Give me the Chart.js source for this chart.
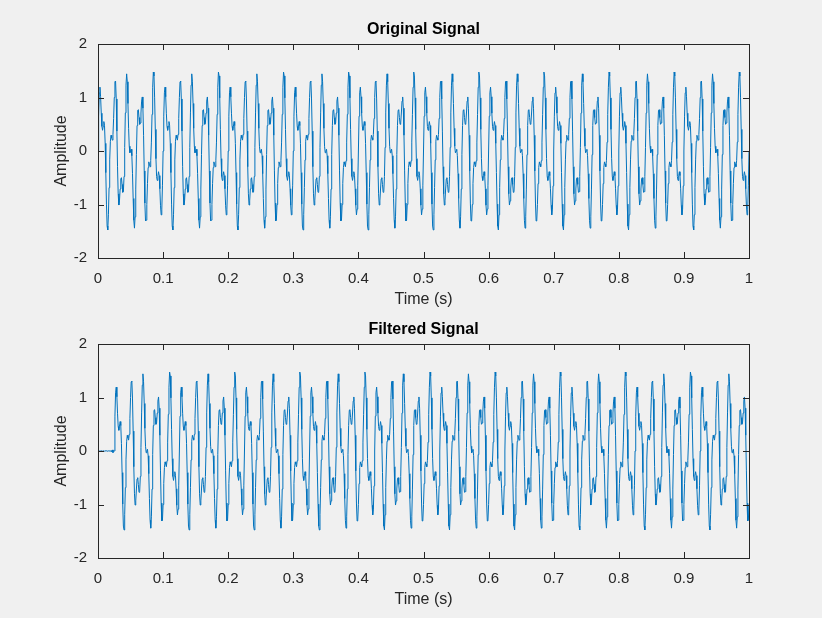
<!DOCTYPE html>
<html><head><meta charset="utf-8">
<script src="https://cdn.jsdelivr.net/npm/chart.js@4"></script>
<style>
html,body{margin:0;padding:0;background:#f0f0f0;}
#w1{position:absolute;left:0;top:0;width:822px;height:309px;}
#w2{position:absolute;left:0;top:300px;width:822px;height:309px;}
</style></head><body>
<div id="w1"><canvas id="c1"></canvas></div>
<div id="w2"><canvas id="c2"></canvas></div>
<script>
const periodValues = [0,.651,1.087,1.194,1.014,.706,.46,.387,.464,.55,
.476,.143,-.404,-.993,-1.403,-1.476,-1.192,-.685,-.166,.182,
.294,.246,.203,.31,.609,1,1.293,1.308,.973,.372,
-.294,-.8,-1.01,-.933,-.71,-.524,-.499,-.625,-.772,-.761,
-.476,.068,.712,1.231,1.442,1.294,.888,.424,.089,-.033,
0,.033,-.089,-.424,-.888,-1.294,-1.442,-1.231,-.712,-.068,
.476,.761,.772,.625,.499,.524,.71,.933,1.01,.8,
.294,-.372,-.973,-1.308,-1.293,-1,-.609,-.31,-.203,-.246,
-.294,-.182,.166,.685,1.192,1.476,1.403,.993,.404,-.143,
-.476,-.55,-.464,-.387,-.46,-.706,-1.014,-1.194,-1.087,-.651];
const periodCount = 10;
const sampleStep = 0.001;
// filter start-up transient (first 25 ms)
const filteredStart = [0,.002,-.003,.004,-.002,.003,.001,-.004,.003,.002,
-.003,.004,-.001,.003,-.004,.002,.003,-.002,.004,-.003,.005,-.01,.02,-.03,.01];
const xTicks = [0,0.1,0.2,0.3,0.4,0.5,0.6,0.7,0.8,0.9,1];
const yTicks = [-2,-1,0,1,2];
const titles = ['Original Signal','Filtered Signal'];

let original = [];
for (let p=0;p<periodCount;p++) original = original.concat(periodValues);
original.push(0);
const filtered = filteredStart.concat(original.slice(0, original.length - filteredStart.length));
const toPts = arr => arr.map((v,i)=>({x:+(i*sampleStep).toFixed(3), y:v}));

const FONT = 'Liberation Sans, Arial, Helvetica, sans-serif';
const frame = {
  id:'frame',
  afterDraw(ch, args, opts){
    const c=ch.ctx, a=ch.chartArea, xs=ch.scales.x, ys=ch.scales.y;
    c.save();
    c.strokeStyle='#262626'; c.lineWidth=1;
    c.strokeRect(Math.round(a.left)+0.5, Math.round(a.top)+0.5, Math.round(a.right-a.left), Math.round(a.bottom-a.top));
    c.beginPath();
    xTicks.forEach(t=>{const px=Math.round(xs.getPixelForValue(t))+0.5;
      c.moveTo(px,a.bottom); c.lineTo(px,a.bottom-6); c.moveTo(px,a.top); c.lineTo(px,a.top+6);});
    yTicks.forEach(t=>{const py=Math.round(ys.getPixelForValue(t))+0.5;
      c.moveTo(a.left,py); c.lineTo(a.left+6,py); c.moveTo(a.right,py); c.lineTo(a.right-6,py);});
    c.stroke();
    c.fillStyle='#000'; c.font='bold 16px '+FONT; c.textAlign='center'; c.textBaseline='middle';
    c.fillText(opts.text, (a.left+a.right)/2, a.top-14);
    c.restore();
  }
};

function make(id, data, title){
  new Chart(document.getElementById(id), {
    type:'line',
    data:{datasets:[{data:toPts(data), borderColor:'#0072BD', borderWidth:1, pointRadius:0, tension:0, fill:false}]},
    options:{
      responsive:true, maintainAspectRatio:false, animation:false,
      layout:{padding:{left:0,right:73,top:44,bottom:0}},
      plugins:{legend:{display:false}, tooltip:{enabled:false}, frame:{text:title}},
      scales:{
        x:{type:'linear', min:0, max:1,
          afterBuildTicks:s=>{s.ticks=xTicks.map(v=>({value:v}));},
          afterFit:s=>{s.height=51;},
          grid:{display:false}, border:{display:false},
          ticks:{color:'#262626', font:{family:FONT,size:15}, padding:4, maxRotation:0, autoSkip:false, callback:v=>String(v)},
          title:{display:true, text:'Time (s)', color:'#262626', font:{family:FONT,size:16}, padding:{top:1,bottom:0}}},
        y:{min:-2, max:2,
          afterBuildTicks:s=>{s.ticks=yTicks.map(v=>({value:v}));},
          afterFit:s=>{s.width=98;},
          grid:{display:false}, border:{display:false},
          ticks:{color:'#262626', font:{family:FONT,size:15}, padding:3, callback:v=>String(v)},
          title:{display:true, text:'Amplitude', color:'#262626', font:{family:FONT,size:16}, padding:{top:52,bottom:0}}}
      }
    },
    plugins:[frame]
  });
}
make('c1', original, titles[0]);
make('c2', filtered, titles[1]);
</script></body></html>
